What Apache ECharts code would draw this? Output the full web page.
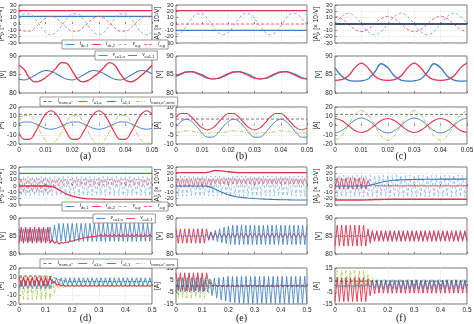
<!DOCTYPE html>
<html><head><meta charset="utf-8">
<script src="https://cdn.jsdelivr.net/npm/echarts/dist/echarts.min.js"></script>
<style>html,body{margin:0;padding:0;background:#fff}#c{width:474px;height:324px}</style>
</head><body><div id="c"></div>
<script>
// ===== data =====
// panel (a) : 0..0.05 s
const aIdc1=[12,12], aIdc2=[21,21];
const aVag=[8.5,16,16,8.5,-3,-13,-17,-13,-3,8.5,16,16,8.5,-3,-13,-17,-13,-3,8.5,16,16,8.5,-3,-13,-17,-13];
const aIag=[-6,-11.3,-11.3,-6,2,9.2,12,9.2,2,-6,-11.3,-11.3,-6,2,9.2,12,9.2,2,-6,-11.3,-11.3,-6,2,9.2,12,9.2];
const aVc1=[83.7,83.5,84.0,84.8,85.6,86.1,85.9,85.2,84.4,83.7,83.5,84.0,84.8,85.6,86.1,85.9,85.2,84.4,83.7,83.5,84.0,84.8,85.6,86.1,85.9,85.2];
const aVc2=[87.5,86.3,84,83,83.3,84.2,85.3,86.8,88.2,88.0,86.0,83.8,83.0,83.4,84.4,85.5,87,88.2,87.5,85.3,83.5,83.0,83.6,84.8,86,87.5];
const aItr=[12,12];
const aIa1a=[2,3.8,3.8,2,-0.7,-3.1,-4,-3.1,-0.7,2,3.8,3.8,2,-0.7,-3.1,-4,-3.1,-0.7,2,3.8,3.8,2,-0.7,-3.1,-4,-3.1];
const aIa11=[-8,-15,-15,-8,2.8,12.3,16,12.3,2.8,-8,-15,-15,-8,2.8,12.3,16,12.3,2.8,-8,-15,-15,-8,2.8,12.3,16,12.3];
const aItrS=[4,11,11,4,-6.8,-16.3,-20,-16.3,-6.8,4,11,11,4,-6.8,-16.3,-20,-16.3,-6.8,4,11,11,4,-6.8,-16.3,-20,-16.3];
// panel (b)
const bIdc1=[-10,-10], bIdc2=[21,21];
const bVag=[-17,-13,-3,8.5,16,16,8.5,-3,-13,-17,-13,-3,8.5,16,16,8.5,-3,-13,-17,-13,-3,8.5,16,16,8.5,-3];
const bIag=[0,0];
const bVc1=[84.5,85.1,85.6,85.8,85.5,84.9,84.2,83.8,83.9,84.4,85.1,85.6,85.8,85.5,84.9,84.2,83.8,83.9,84.4,85.1,85.6,85.8,85.5,84.9,84.2,83.8];
const bVc2=[84.6,85.3,85.7,85.7,85.3,84.6,84.0,83.8,84.0,84.6,85.3,85.7,85.7,85.3,84.6,84.0,83.8,84.0,84.6,85.3,85.7,85.7,85.3,84.6,84.0,83.8];
const bItr=[3.5,3.5];
const bIa1a=[-0.7,2.2,3.4,2.2,-0.7,-4.1,-6.3,-6.3,-4.1,-0.7,2.2,3.4,2.2,-0.7,-4.1,-6.3,-6.3,-4.1,-0.7,2.2,3.4,2.2,-0.7,-4.1,-6.3,-6.3];
const bIa11=[4.5,6.5,6.5,4.5,1.4,-1.3,-2.4,-1.3,1.4,4.5,6.5,6.5,4.5,1.4,-1.3,-2.4,-1.3,1.4,4.5,6.5,6.5,4.5,1.4,-1.3,-2.4,-1.3];
const bItrS=[-3.8,-3.2,-2.9,-3.1,-3.6,-4.1,-4.2,-4.0,-3.9,-3.8,-3.2,-2.9,-3.1,-3.6,-4.1,-4.2,-4.0,-3.9,-3.8,-3.2,-2.9,-3.1,-3.6,-4.1,-4.2,-4.0];
// panel (c)
const cIdc1=[0,0], cIdc2=[0,0];
const cVag=[0,12,17,12,0,-12,-17,-12,0,12,17,12,0,-12,-17,-12,0,12,17,12,0];
const cIag=[12,8.5,0,-8.5,-12,-8.5,0,8.5,12,8.5,0,-8.5,-12,-8.5,0,8.5,12,8.5,0,-8.5,-12];
const cVc1=[86.8,84.6,83.5,83.2,83.3,83.8,85.6,87.9,86.8,84.6,83.5,83.2,83.3,83.8,85.6,87.9,86.8,84.6,83.5,83.2,83.3];
const cVc2=[83.4,83.6,84.6,86.8,88.1,86.8,84.6,83.6,83.4,83.6,84.6,86.8,88.1,86.8,84.6,83.6,83.4,83.6,84.6,86.8,88.1];
const cItr=[12,12];
const cIa1a=[-8,-5.7,0,5.7,8,5.7,0,-5.7,-8,-5.7,0,5.7,8,5.7,0,-5.7,-8,-5.7,0,5.7,8];
const cIa11=[7.5,5.3,0,-5.3,-7.5,-5.3,0,5.3,7.5,5.3,0,-5.3,-7.5,-5.3,0,5.3,7.5,5.3,0,-5.3,-7.5];
const cItrS=[-16,-11.3,0,11.3,16,11.3,0,-11.3,-16,-11.3,0,11.3,16,11.3,0,-11.3,-16,-11.3,0,11.3,16];
// panel (d) : 0..0.5 s
const dIdc1=[20,20];
const dIdc2=[0,0,0,0,0,-1,-6,-12,-16,-18.5,-19.8,-20.4,-20.7,-20.9,-21,-21,-21,-21,-21,-21,-21];
const dVag=[15,-15,15,-15,15,-15,15,-15,15,-15,15,-15,15,-15,15,-15,15,-15,15,-15,15,-15,15,-15,15,-15,15,-15,15,-15,
15,-15,15,-15,15,-15,15,-15,15,-15,15,-15,15,-15,15,-15,15,-15,15,-15,15,-15,15,-15,15,-15,15,-15,15,-15,15];
const dIag=[-10,12,-10,12,-10,12,-10,12,-10,12,-10,12,-10,12,-9,11,-4,11,0,11,1,11,1,11,1,11,1,11,1,11,
1,11,1,11,1,11,1,11,1,11,1,11,1,11,1,11,1,11,1,11,1,11,1,11,1,11,1,11,1,11,1];
const dVc1=[87,83.5,87,83.5,87,83.5,87,83.5,87,83.5,87,83.5,87,83.5,87.5,83.5,88,83.5,88.5,83.5,88.5,83.5,88.5,83.5,88.5,83.5,88.5,83.5,88.5,83.5,
88.5,83.5,88.5,83.5,88.5,83.5,88.5,83.5,88.5,83.5,88.5,83.5,88.5,83.5,88.5,83.5,88.5,83.5,88.5,83.5,88.5,83.5,88.5,83.5,88.5,83.5,88.5,83.5,88.5,83.5,88.5];
const dVc2=[83,87.5,83,87.5,83,87.5,83,87.5,83,87.5,83,87.5,83,87.5,83,84,83,83.5,82.8,83.2,83,83.3,83.2,83.6,83.5,83.9,83.9,84.2,84.2,84.5,
84.5,84.7,84.7,84.9,84.8,85,85,85.4,84.8,85.4,84.8,85.4,84.8,85.4,84.8,85.4,84.8,85.4,84.8,85.4,84.8,85.4,84.8,85.4,84.8,85.4,84.8,85.4,84.8,85.4,84.8];
const dItr=[11,11,11,11,11,10,7,5.5,5,5,5,5,5,5,5,5,5,5,5,5,5];
const dIa1a=[-3,6,-3,6,-3,6,-3,6,-3,6,-3,6,-3,6,-3,7,3,8.5,1.5,9,1,9,1,9,1,9,1,9,1,9,
1,9,1,9,1,9,1,9,1,9,1,9,1,9,1,9,1,9,1,9,1,9,1,9,1,9,1,9,1,9,1];
const dIa11=[10,0,10,0,10,0,10,0,10,0,10,0,10,0,10,3,5,1,2,0,1,-0.3,0.5,-0.3,0.5,-0.3,0.5,-0.3,0.5,-0.3,
0.5,-0.3,0.5,-0.3,0.5,-0.3,0.5,-0.3,0.5,-0.3,0.5,-0.3,0.5,-0.3,0.5,-0.3,0.5,-0.3,0.5,-0.3,0.5,-0.3,0.5,-0.3,0.5,-0.3,0.5,-0.3,0.5,-0.3,0.5];
const dItrS=[-15,12,-15,12,-15,12,-15,12,-15,12,-15,12,-15,12,-15,8,-8,5,-4,3,-2,2,-1,1.5,0,1,0,1,0,1,
0,1,0,1,0,1,0,1,0,1,0,1,0,1,0,1,0,1,0,1,0,1,0,1,0,1,0,1,0,1,0];
// panel (e)
const eIdc1=[0,0,0,0,0,-1,-5,-10,-14,-16.5,-18,-19,-19.8,-20.5,-21,-21.3,-21.6,-21.8,-22,-22,-22];
const eIdc2=[21,21,21,21,21,22,24.5,24,22.5,21.5,21,21,21,21,21,21,21,21,21,21,21];
const eVag=[16,-16,16,-16,16,-16,16,-16,16,-16,16,-16,16,-16,16,-16,16,-16,16,-16,16,-16,16,-16,16,-16,16,-16,16,-16,
16,-16,16,-16,16,-16,16,-16,16,-16,16,-16,16,-16,16,-16,16,-16,16,-16,16,-16,16,-16,16,-16,16,-16,16,-16,16];
const eIag=[-2,12,-2,12,-2,12,-2,12,-2,12,-2,12,-2,12,-2,12,1,12,3,12,3,12,3,12,3,12,3,12,3,12,
3,12,3,12,3,12,3,12,3,12,3,12,3,12,3,12,3,12,3,12,3,12,3,12,3,12,3,12,3,12,3];
const eVc1=[85.1,84.9,85.1,84.9,85.1,84.9,85.1,84.9,85.1,84.9,85.1,84.9,85.1,84.9,85.5,84.2,86.2,83.8,86.6,83.4,87,83.1,87.4,82.9,87.7,82.7,88,82.6,88,82.6,
88,82.6,88,82.6,88,82.6,88,82.6,88,82.6,88,82.6,88,82.6,88,82.6,88,82.6,88,82.6,88,82.6,88,82.6,88,82.6,88,82.6,88,82.6,88];
const eVc2=[87,83,87,83,87,83,87,83,87,83,87,83,87,83,87,83.8,86,84.4,85.8,84.6,85.7,84.6,85.7,84.6,85.7,84.6,85.7,84.6,85.7,84.6,
85.7,84.6,85.7,84.6,85.7,84.6,85.7,84.6,85.7,84.6,85.7,84.6,85.7,84.6,85.7,84.6,85.7,84.6,85.7,84.6,85.7,84.6,85.7,84.6,85.7,84.6,85.7,84.6,85.7,84.6,85.7];
const eItr=[0,0];
const eIa1a=[-5,7,-5,7,-5,7,-5,7,-5,7,-5,7,-5,7,-5,6,-8,6.5,-10,7,-11.5,7.5,-12.5,8,-13.5,8,-14,8,-14.5,8,
-14.5,8,-14.5,8,-14.5,8,-14.5,8,-14.5,8,-14.5,8,-14.5,8,-14.5,8,-14.5,8,-14.5,8,-14.5,8,-14.5,8,-14.5,8,-14.5,8,-14.5];
const eIa11=[11,-4,11,-4,11,-4,11,-4,11,-4,11,-4,11,-4,11,2,3,-0.5,1,-0.5,0.8,-0.5,0.8,-0.5,0.8,-0.5,0.8,-0.5,0.8,-0.5,
0.8,-0.5,0.8,-0.5,0.8,-0.5,0.8,-0.5,0.8,-0.5,0.8,-0.5,0.8,-0.5,0.8,-0.5,0.8,-0.5,0.8,-0.5,0.8,-0.5,0.8,-0.5,0.8,-0.5,0.8,-0.5,0.8,-0.5,0.8];
const eItrS=[9,-10,9,-10,9,-10,9,-10,9,-10,9,-10,9,-10,9,-6,5,-3,2,-1,1,-0.5,0.5,-0.5,0.5,-0.5,0.5,-0.5,0.5,-0.5,
0.5,-0.5,0.5,-0.5,0.5,-0.5,0.5,-0.5,0.5,-0.5,0.5,-0.5,0.5,-0.5,0.5,-0.5,0.5,-0.5,0.5,-0.5,0.5,-0.5,0.5,-0.5,0.5,-0.5,0.5,-0.5,0.5,-0.5,0.5];
// panel (f)
const fIdc1=[0,0,0,0,0,0.5,3,6,8,9,9.6,10,10.3,10.5,10.6,10.7,10.8,10.8,10.9,10.9,11];
const fIdc2=[-22,-22,-22,-22,-22,-21.8,-21.4,-21.2,-21,-21,-21,-21,-21,-21,-21,-21,-21,-21,-21,-21,-21];
const fVag=[17,-17,17,-17,17,-17,17,-17,17,-17,17,-17,17,-17,17,-17,17,-17,17,-17,17,-17,17,-17,17,-17,17,-17,17,-17,
17,-17,17,-17,17,-17,17,-17,17,-17,17,-17,17,-17,17,-17,17,-17,17,-17,17,-17,17,-17,17,-17,17,-17,17,-17,17];
const fIag=[-5,13,-5,13,-5,13,-5,13,-5,13,-5,13,-5,13,-5,9,0,3,0,1,0,0.6,0,0.6,0,0.6,0,0.6,0,0.6,
0,0.6,0,0.6,0,0.6,0,0.6,0,0.6,0,0.6,0,0.6,0,0.6,0,0.6,0,0.6,0,0.6,0,0.6,0,0.6,0,0.6,0,0.6,0];
const fVc1=[85.1,84.9,85.1,84.9,85.1,84.9,85.1,84.9,85.1,84.9,85.1,84.9,85.1,84.9,84.8,85.8,84.2,86,84,86,84,86,84,86,84,86,84,86,84,86,
84,86,84,86,84,86,84,86,84,86,84,86,84,86,84,86,84,86,84,86,84,86,84,86,84,86,84,86,84,86,84];
const fVc2=[82.2,88,82.2,88,82.2,88,82.2,88,82.2,88,82.2,88,82.2,88,82.2,87,83,86.5,83.5,86.5,83.5,86.5,83.5,86.5,83.5,86.5,83.5,86.5,83.5,86.5,
83.5,86.5,83.5,86.5,83.5,86.5,83.5,86.5,83.5,86.5,83.5,86.5,83.5,86.5,83.5,86.5,83.5,86.5,83.5,86.5,83.5,86.5,83.5,86.5,83.5,86.5,83.5,86.5,83.5,86.5,83.5];
const fItr=[4,4];
const fIa1a=[0.3,-0.3,0.3,-0.3,0.3,-0.3,0.3,-0.3,0.3,-0.3,0.3,-0.3,0.3,-0.3,0.3,2,-1,4,-2,5,-2.5,5,-2.5,5,-2.5,5,-2.5,5,-2.5,5,
-2.5,5,-2.5,5,-2.5,5,-2.5,5,-2.5,5,-2.5,5,-2.5,5,-2.5,5,-2.5,5,-2.5,5,-2.5,5,-2.5,5,-2.5,5,-2.5,5,-2.5,5,-2.5];
const fIa11=[-13,7,-13,7,-13,7,-13,7,-13,7,-13,7,-13,7,-13,6,-8,5,-6.5,4,-6,4,-6,4,-6,4,-6,4,-6,4,
-6,4,-6,4,-6,4,-6,4,-6,4,-6,4,-6,4,-6,4,-6,4,-6,4,-6,4,-6,4,-6,4,-6,4,-6,4,-6];
const fItrS=[-2,13,-2,13,-2,13,-2,13,-2,13,-2,13,-2,13,-2,10,1,7,3,6,4,5.2,4.8,5.2,4.8,5.2,4.8,5.2,4.8,5.2,
4.8,5.2,4.8,5.2,4.8,5.2,4.8,5.2,4.8,5.2,4.8,5.2,4.8,5.2,4.8,5.2,4.8,5.2,4.8,5.2,4.8,5.2,4.8,5.2,4.8,5.2,4.8,5.2,4.8,5.2,4.8];

const panelLabels=['(a)','(b)','(c)','(d)','(e)','(f)'];
const topTicks=[0,0.01,0.02,0.03,0.04,0.05], botTicks=[0,0.1,0.2,0.3,0.4,0.5];

// ===== styling / layout =====
const RED='#e4324c', BLUE='#3a7bbf', LBLUE='#78aedf', LRED='#e9576d', GREEN='#a3c64b', GRAY='#666666', DARK='#3c4668';
const DASH=[3,2], DDOT=[4,1.5,1,1.5];
const COLS=[[19,133],[176,131],[335,132]];
const ROWS=[[[5,38],[56,37],[107,37]],[[167,38],[218,36],[268,36]]];

const panels=[
 {rows:[[['i_dc,1',aIdc1,BLUE,'solid',1.3],['i_dc,2',aIdc2,RED,'solid',1.3],['v_a,g',aVag,LBLUE,DASH,0.9],['i_a,g',aIag,LRED,DASH,0.9]],
        [['v_ca1,a',aVc1,BLUE,'solid',1.1],['v_ca1,1',aVc2,RED,'solid',1.3]],
        [['i_trans,a*',aItr,GRAY,DASH,0.9],['i_a1,a',aIa1a,BLUE,'solid',0.9],['i_a1,1',aIa11,RED,'solid',1.1],['i_trans,a*,sens',aItrS,GREEN,DDOT,0.9]]], y3:[-20,20,10]},
 {rows:[[['i_dc,1',bIdc1,BLUE,'solid',1.3],['i_dc,2',bIdc2,RED,'solid',1.3],['v_a,g',bVag,LBLUE,DASH,0.9],['i_a,g',bIag,LRED,DASH,0.9]],
        [['v_ca1,a',bVc1,BLUE,'solid',1.1],['v_ca1,1',bVc2,RED,'solid',1.1]],
        [['i_trans,a*',bItr,GRAY,DASH,0.9],['i_a1,a',bIa1a,BLUE,'solid',0.9],['i_a1,1',bIa11,RED,'solid',1.1],['i_trans,a*,sens',bItrS,GREEN,DDOT,0.9]]], y3:[-10,10,5]},
 {rows:[[['v_a,g',cVag,LBLUE,DASH,0.9],['i_a,g',cIag,LRED,DASH,0.9],['i_dc,2',cIdc2,DARK,'solid',1.3],['i_dc,1',cIdc1,DARK,'solid',1.3]],
        [['v_ca1,a',cVc1,BLUE,'solid',1.3],['v_ca1,1',cVc2,RED,'solid',1.3]],
        [['i_trans,a*',cItr,GRAY,DASH,0.9],['i_trans,a*,sens',cItrS,GREEN,DDOT,0.9],['i_a1,a',cIa1a,BLUE,'solid',0.9],['i_a1,1',cIa11,RED,'solid',1.1]]], y3:[-20,20,10]},
 {rows:[[['v_a,g',dVag,LBLUE,DASH,0.7],['i_a,g',dIag,LRED,DASH,0.7],['i_dc,1',dIdc1,BLUE,'solid',1.1],['i_dc,2',dIdc2,RED,'solid',1.3]],
        [['v_ca1,a',dVc1,BLUE,'solid',0.8],['v_ca1,1',dVc2,RED,'solid',1.1]],
        [['i_trans,a*,sens',dItrS,GREEN,DDOT,0.8],['i_a1,a',dIa1a,BLUE,'solid',0.8],['i_a1,1',dIa11,RED,'solid',1.1],['i_trans,a*',dItr,GRAY,DASH,0.9]]], y3:[-20,20,10]},
 {rows:[[['v_a,g',eVag,LBLUE,DASH,0.7],['i_a,g',eIag,LRED,'solid',0.7],['i_dc,1',eIdc1,BLUE,'solid',1.1],['i_dc,2',eIdc2,RED,'solid',1.3]],
        [['v_ca1,1',eVc2,RED,'solid',0.9],['v_ca1,a',eVc1,BLUE,'solid',0.8]],
        [['i_trans,a*,sens',eItrS,GREEN,DDOT,0.8],['i_a1,1',eIa11,RED,'solid',0.9],['i_a1,a',eIa1a,BLUE,'solid',0.8],['i_trans,a*',eItr,DARK,DASH,0.9]]], y3:[-15,15,10]},
 {rows:[[['v_a,g',fVag,LBLUE,DASH,0.7],['i_a,g',fIag,RED,'solid',0.8],['i_dc,1',fIdc1,BLUE,'solid',1.1],['i_dc,2',fIdc2,RED,'solid',1.4]],
        [['v_ca1,a',fVc1,BLUE,'solid',0.8],['v_ca1,1',fVc2,RED,'solid',0.9]],
        [['i_trans,a*,sens',fItrS,GREEN,DDOT,0.8],['i_a1,1',fIa11,RED,'solid',0.9],['i_a1,a',fIa1a,BLUE,'solid',0.8],['i_trans,a*',fItr,DARK,DASH,0.8]]], y3:[-15,15,10]}
];

const legendPos={0:[[62,40],[95,51],[40,97]],3:[[62,202],[93,214],[40,259]]};
const legendNames=[['i_dc,1','i_dc,2','v_a,g','i_a,g'],['v_ca1,a','v_ca1,1'],['i_trans,a*','i_a1,a','i_a1,1','i_trans,a*,sens']];

const FONT='"Liberation Sans", Arial, sans-serif';
const grids=[], xAxes=[], yAxes=[], series=[], legends=[], graphics=[];
function pts(vals,T){const n=vals.length-1;return vals.map((v,i)=>[i*T/n,v]);}

panels.forEach((P,pi)=>{
  const half=pi<3?0:1, col=pi%3, T=half?0.5:0.05, ticks=half?botTicks:topTicks;
  P.rows.forEach((lines,r)=>{
    const g=pi*3+r, [top,height]=ROWS[half][r], [left,width]=COLS[col];
    grids.push({left,top,width,height,show:true,borderColor:'#3a3a3a',borderWidth:0.7,containLabel:false,outerBoundsMode:'none'});
    xAxes.push({gridIndex:g,type:'value',min:ticks[0],max:ticks[5],interval:ticks[1],
      axisLine:{show:false},axisTick:{show:true,inside:true,length:2,lineStyle:{color:'#444',width:0.6}},
      splitLine:{show:true,lineStyle:{color:'#cfcfcf',type:[1,1.5],width:0.6}},
      axisLabel:{show:r===2,fontSize:6.5,color:'#222',margin:3,fontFamily:FONT,showMinLabel:true,showMaxLabel:true,hideOverlap:false,
        formatter:v=>v===0?'0':String(+v.toFixed(2))}});
    let ys;
    if(r===0) ys={min:-30,max:30,interval:10,name:'[A], [× 10¹V]',gap:13};
    else if(r===1) ys={min:80,max:90,interval:5,name:'[V]',gap:11};
    else ys={min:P.y3[0],max:P.y3[1],interval:P.y3[2],name:'[A]',gap:11};
    yAxes.push({gridIndex:g,type:'value',min:ys.min,max:ys.max,interval:ys.interval,name:ys.name,nameLocation:'middle',nameGap:ys.gap,
      nameTextStyle:{fontSize:6.5,color:'#222',fontFamily:FONT},
      axisLine:{show:false},axisTick:{show:true,inside:true,length:2,lineStyle:{color:'#444',width:0.6}},
      splitLine:{show:true,lineStyle:{color:'#cfcfcf',type:[1,1.5],width:0.6}},
      axisLabel:{fontSize:r===0?6:6.5,color:'#222',margin:2.5,fontFamily:FONT,showMinLabel:true,showMaxLabel:true,hideOverlap:false,interval:0}});
    lines.forEach(([name,vals,color,type,w])=>{
      let smooth=false;
      if(vals.length>2){ if(!half) smooth=0.4; else if(vals.length===21) smooth=0.3; }
      series.push({type:'line',name,xAxisIndex:g,yAxisIndex:g,data:pts(vals,T),symbol:'none',showSymbol:false,smooth,
        lineStyle:{color,width:w,type},itemStyle:{color},clip:true,animation:false,silent:true});
    });
    if(legendPos[pi]){
      const [lx,ly]=legendPos[pi][r];
      legends.push({show:true,data:legendNames[r],left:lx,top:ly,orient:'horizontal',itemWidth:9,itemHeight:4,itemGap:r===2?5:3,
        padding:[1,3,1,3],borderColor:'#555',borderWidth:0.6,backgroundColor:'#fff',selectedMode:false,
        itemStyle:{opacity:0,borderWidth:0},lineStyle:{width:0.9},
        formatter:n=>{const k=n.indexOf('_');return '{m|'+n.slice(0,k)+'}{s|'+n.slice(k+1)+'}';},
        textStyle:{color:'#222',rich:{m:{fontSize:5.5,fontStyle:'italic',fontFamily:'"Liberation Serif", serif',lineHeight:7,verticalAlign:'top'},
                                       s:{fontSize:4,fontFamily:FONT,lineHeight:7,verticalAlign:'bottom'}}}});
    }
  });
  const [left,width]=COLS[col];
  graphics.push({type:'text',x:left+width/2,y:half?318:156,z:10,
    style:{text:panelLabels[pi],font:'10px "Liberation Serif", serif',textAlign:'center',textVerticalAlign:'middle',fill:'#111'}});
});

const chart=echarts.init(document.getElementById('c'),null,{renderer:'canvas',width:474,height:324});
chart.setOption({animation:false,backgroundColor:'#fff',grid:grids,xAxis:xAxes,yAxis:yAxes,series,legend:legends,graphic:graphics});
</script></body></html>
